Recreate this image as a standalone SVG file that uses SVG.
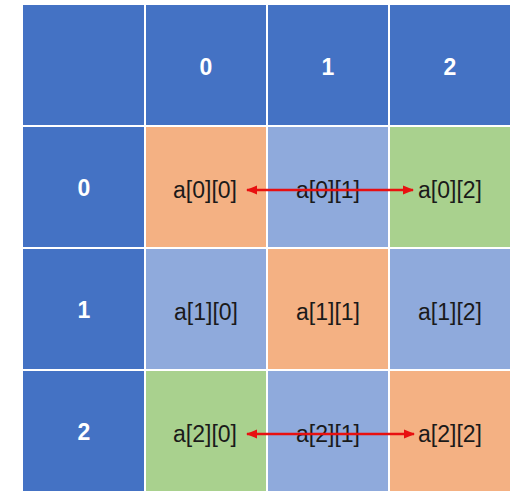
<svg xmlns="http://www.w3.org/2000/svg" width="532" height="497" viewBox="0 0 532 497">
<defs>
<style>
.h{fill:#4472C4}
.o{fill:#F4B183}
.b{fill:#8FAADC}
.g{fill:#A9D18E}
.ht{font-family:"Liberation Sans",Arial,sans-serif;font-weight:bold;font-size:23px;fill:#fff;text-anchor:middle;dominant-baseline:central}
.ct{font-family:"Liberation Sans",Arial,sans-serif;font-size:23px;fill:#1a1a1a;text-anchor:middle;dominant-baseline:central}
.ar{stroke:#E81010;stroke-width:2.5;fill:none}
</style>
<marker id="ah" viewBox="0 0 10 10" refX="9" refY="5" markerWidth="4.5" markerHeight="4.5" orient="auto-start-reverse" markerUnits="strokeWidth">
<path d="M0,1 L10,5 L0,9 Z" fill="#E81010"/>
</marker>
</defs>
<rect width="532" height="497" fill="#fff"/>
<g id="h00"><rect class="h" x="23" y="5" width="121" height="120"/></g>
<g id="hc0"><rect class="h" x="146" y="5" width="120" height="120"/><text class="ht" x="206" y="67">0</text></g>
<g id="hc1"><rect class="h" x="268" y="5" width="120" height="120"/><text class="ht" x="328" y="67">1</text></g>
<g id="hc2"><rect class="h" x="390" y="5" width="120" height="120"/><text class="ht" x="450" y="67">2</text></g>
<g id="hr0"><rect class="h" x="23" y="127" width="121" height="120"/><text class="ht" x="84" y="188">0</text></g>
<g id="hr1"><rect class="h" x="23" y="249" width="121" height="120"/><text class="ht" x="84" y="310">1</text></g>
<g id="hr2"><rect class="h" x="23" y="371" width="121" height="120"/><text class="ht" x="84" y="432">2</text></g>
<g id="c00"><rect class="o" x="146" y="127" width="120" height="120"/><text class="ct" x="205" y="190">a[0][0]</text></g>
<g id="c01"><rect class="b" x="268" y="127" width="120" height="120"/><text class="ct" x="328" y="190">a[0][1]</text></g>
<g id="c02"><rect class="g" x="390" y="127" width="120" height="120"/><text class="ct" x="450" y="190">a[0][2]</text></g>
<g id="c10"><rect class="b" x="146" y="249" width="120" height="120"/><text class="ct" x="206" y="312">a[1][0]</text></g>
<g id="c11"><rect class="o" x="268" y="249" width="120" height="120"/><text class="ct" x="328" y="312">a[1][1]</text></g>
<g id="c12"><rect class="b" x="390" y="249" width="120" height="120"/><text class="ct" x="450" y="312">a[1][2]</text></g>
<g id="c20"><rect class="g" x="146" y="371" width="120" height="120"/><text class="ct" x="205" y="434">a[2][0]</text></g>
<g id="c21"><rect class="b" x="268" y="371" width="120" height="120"/><text class="ct" x="328" y="434">a[2][1]</text></g>
<g id="c22"><rect class="o" x="390" y="371" width="120" height="120"/><text class="ct" x="450" y="434">a[2][2]</text></g>
<g id="connectors">
<line class="ar" x1="247" y1="190" x2="413" y2="190" marker-start="url(#ah)" marker-end="url(#ah)"/>
<line class="ar" x1="247" y1="434" x2="414" y2="434" marker-start="url(#ah)" marker-end="url(#ah)"/>
</g>
</svg>
